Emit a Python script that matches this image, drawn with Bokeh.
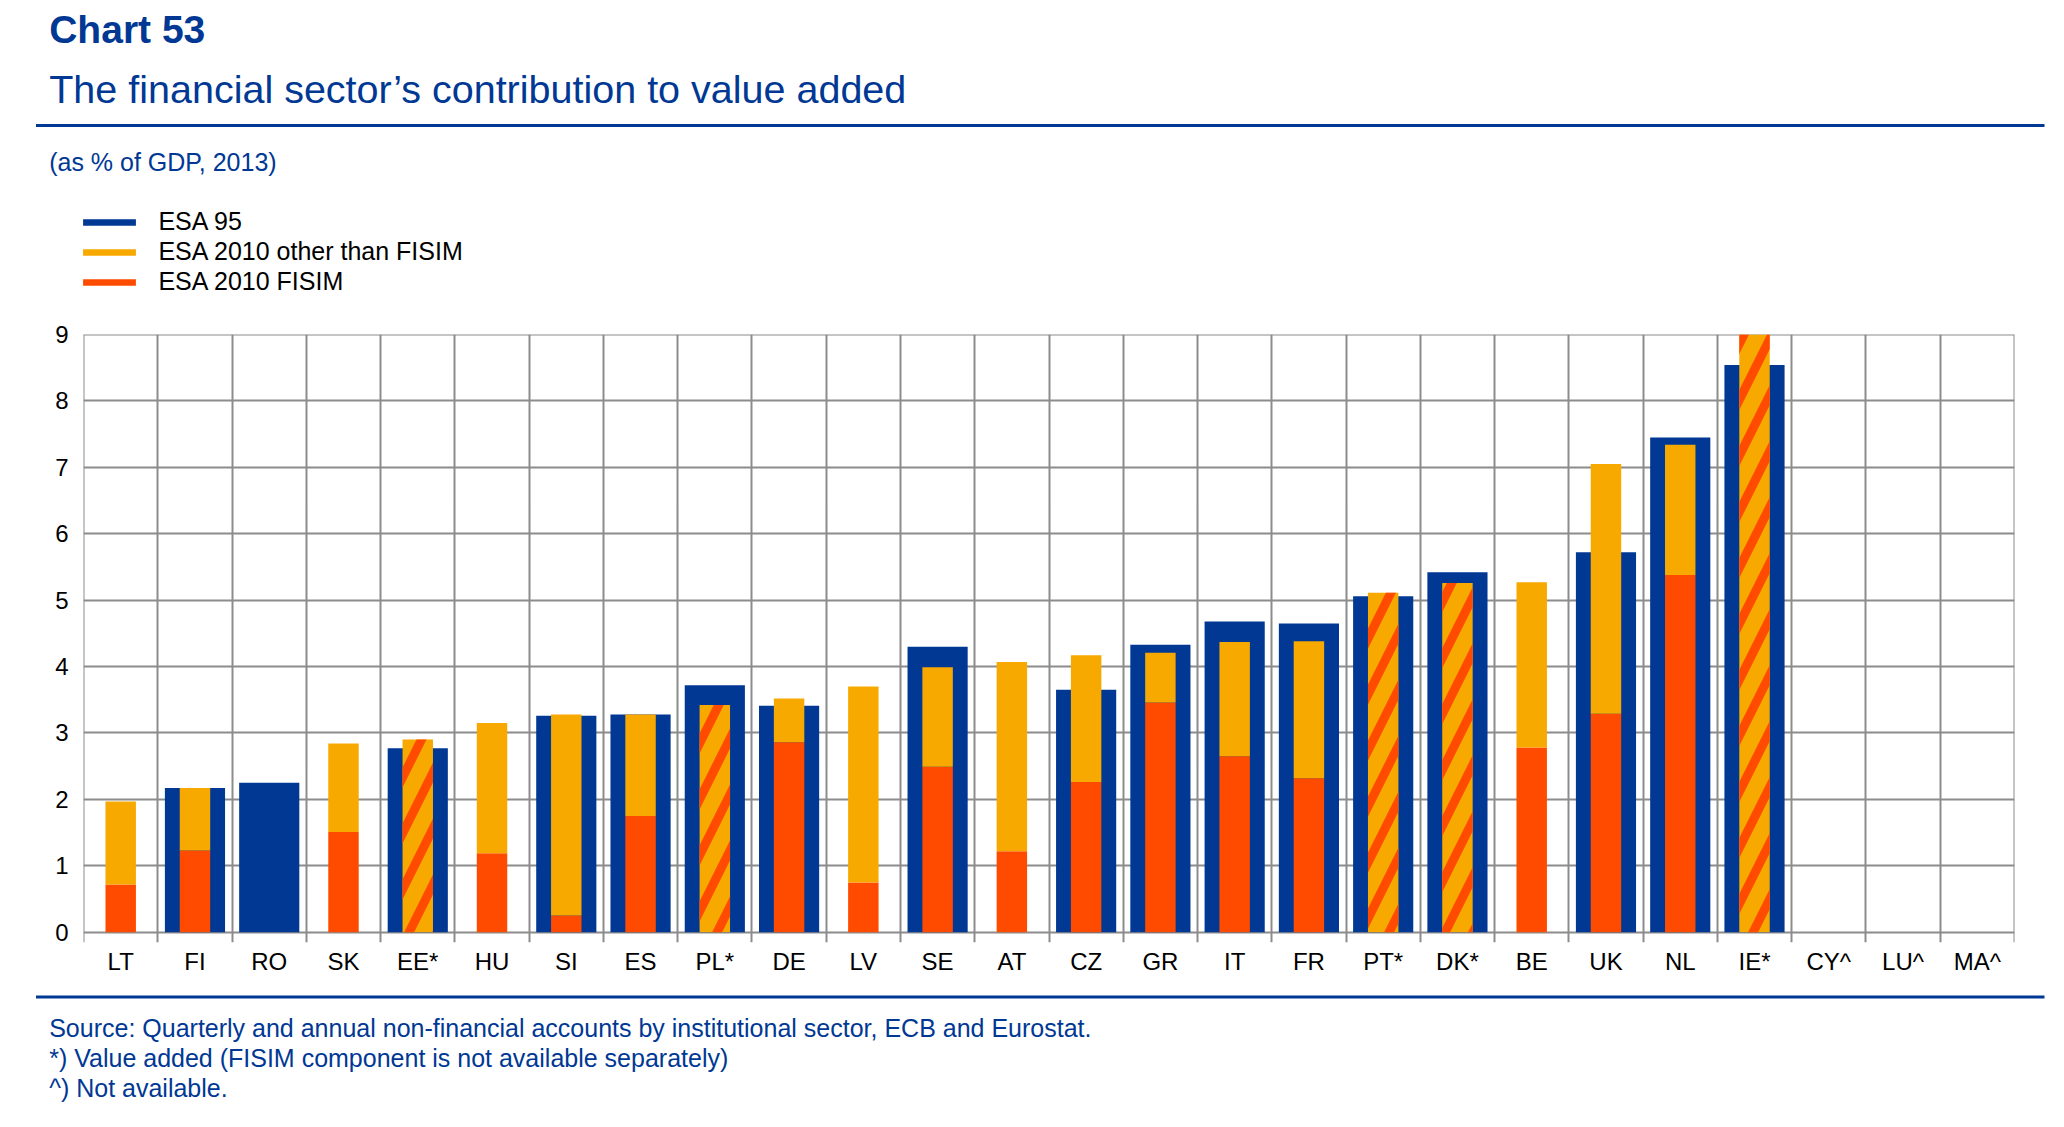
import numpy as np
from bokeh.plotting import figure
from bokeh.models import (ColumnDataSource, FactorRange, Range1d, FixedTicker,
                          Legend, LegendItem, Label, BoxAnnotation)
from bokeh.embed import file_html
from bokeh.resources import INLINE

nan = np.nan

# ---------------- data (as % of GDP, 2013) ----------------
countries = ["LT", "FI", "RO", "SK", "EE*", "HU", "SI", "ES", "PL*", "DE", "LV", "SE", "AT",
             "CZ", "GR", "IT", "FR", "PT*", "DK*", "BE", "UK", "NL", "IE*", "CY^", "LU^", "MA^"]
esa95 = [nan, 2.17, 2.25, nan, 2.77, nan, 3.26, 3.28, 3.72, 3.41, nan, 4.30, nan,
         3.65, 4.33, 4.68, 4.65, 5.06, 5.42, nan, 5.72, 7.45, 8.54, nan, nan, nan]
esa2010_fisim = [0.72, 1.23, nan, 1.51, nan, 1.19, 0.25, 1.75, nan, 2.86, 0.75, 2.49, 1.22,
                 2.26, 3.46, 2.65, 2.32, nan, nan, 2.78, 3.29, 5.38, nan, nan, nan, nan]
esa2010_other = [1.25, 0.94, nan, 1.33, nan, 1.96, 3.03, 1.53, nan, 0.66, 2.95, 1.50, 2.85,
                 1.91, 0.75, 1.72, 2.06, nan, nan, 2.49, 3.76, 1.96, nan, nan, nan, nan]
# value added, FISIM component not available separately (*)
esa2010_total_only = [nan, nan, nan, nan, 2.90, nan, nan, nan, 3.42, nan, nan, nan, nan,
                      nan, nan, nan, nan, 5.11, 5.26, nan, nan, nan, 9.25, nan, nan, nan]
y_ticks = [0, 1, 2, 3, 4, 5, 6, 7, 8, 9]

title = "Chart 53"
subtitle = "The financial sector\u2019s contribution to value added"
units = "(as % of GDP, 2013)"
legend_labels = ["ESA 95", "ESA 2010 other than FISIM", "ESA 2010 FISIM"]
notes = ["Source: Quarterly and annual non-financial accounts by institutional sector, ECB and Eurostat.",
         "*) Value added (FISIM component is not available separately)",
         "^) Not available."]

BLUE = "#003894"
YELLOW = "#F7A900"
RED = "#FF4B00"
GRID = "#8C8C8C"
FONT = "Liberation Sans"
W = 2064

# ---------------- layout geometry (page pixels) ----------------
TOP_H = 320          # header panel: title, subtitle, units, legend
BOT_Y0 = 985         # footer panel starts here
FRAME_TOP = 334
FRAME_H = 608
FRAME_LEFT = 83
MAIN_H = BOT_Y0 - TOP_H
RULE_X0, RULE_X1 = 35.5, 2044


def text_panel(height):
    f = figure(width=W, height=height, x_range=Range1d(0, W), y_range=Range1d(height, 0),
               min_border=0, x_axis_location=None, y_axis_location=None,
               output_backend="svg", toolbar_location=None, tools="",
               background_fill_color="white", border_fill_color="white")
    f.outline_line_color = None
    f.grid.visible = False
    return f


def add_text(f, text, x, y, size, color, bold=False):
    f.add_layout(Label(x=x, y=y, text=text, text_font=FONT, text_font_size=size,
                       text_color=color, text_font_style="bold" if bold else "normal",
                       text_baseline="alphabetic", text_align="left"))


def add_rule(f, y):
    f.add_layout(BoxAnnotation(left=RULE_X0, right=RULE_X1, top=y - 1.5, bottom=y + 1.5,
                               fill_color=BLUE, fill_alpha=1, line_color=None))


# ---------------- header ----------------
top = text_panel(TOP_H)
add_text(top, title, 48.7, 28.5, "39px", BLUE, bold=True)
add_text(top, subtitle, 48.7, 88.2, "39.5px", BLUE)
add_rule(top, 125)
add_text(top, units, 48.7, 161.4, "25px", BLUE)

# legend swatch renderers (zero-size bars, only used by the legend)
proxies = [top.vbar(x=[0], top=[0], width=0, fill_color=c, line_color=None)
           for c in (BLUE, YELLOW, RED)]
legend = Legend(
    items=[LegendItem(label=lab, renderers=[r]) for lab, r in zip(legend_labels, proxies)],
    location=(76.4, TOP_H - 296.7),
    orientation="vertical", glyph_width=66, glyph_height=8, label_height=30,
    label_standoff=16, spacing=0, padding=0, margin=0,
    border_line_color=None, background_fill_alpha=0,
    label_text_font=FONT, label_text_font_size="25px", label_text_color="black",
)
top.add_layout(legend, "center")

# ---------------- chart ----------------
src = ColumnDataSource(data=dict(
    country=countries,
    esa95=np.array(esa95),
    fisim=np.array(esa2010_fisim),
    other=np.array(esa2010_other),
    total_only=np.array(esa2010_total_only),
))

p = figure(
    x_range=FactorRange(factors=countries, range_padding=0.001, range_padding_units="absolute"),
    y_range=Range1d(-0.155, 9.0005),
    frame_width=W - FRAME_LEFT - 50, frame_height=FRAME_H,
    min_border_left=FRAME_LEFT, min_border_right=50,
    min_border_top=FRAME_TOP - TOP_H, min_border_bottom=MAIN_H - (FRAME_TOP - TOP_H) - FRAME_H,
    output_backend="svg", toolbar_location=None, tools="",
    background_fill_color="white", border_fill_color="white",
)
p.outline_line_color = None

p.xgrid.ticker = FixedTicker(ticks=list(range(len(countries) + 1)))
p.ygrid.ticker = FixedTicker(ticks=y_ticks)
for g in (p.xgrid, p.ygrid):
    g.grid_line_color = GRID
    g.grid_line_width = 2

p.yaxis.ticker = FixedTicker(ticks=y_ticks)
for ax in (p.xaxis, p.yaxis):
    ax.axis_line_color = None
    ax.major_tick_line_color = None
    ax.minor_tick_line_color = None
    ax.major_label_text_font = FONT
    ax.major_label_text_font_size = "24px"
    ax.major_label_text_color = "black"
p.yaxis.major_label_standoff = 9
p.xaxis.major_label_standoff = -1

p.vbar(x="country", top="esa95", bottom=0, width=0.81, source=src,
       fill_color=BLUE, line_color=None)
p.vbar_stack(["fisim", "other"], x="country", width=0.41, source=src,
             fill_color=[RED, YELLOW], line_color=None)
p.vbar(x="country", top="total_only", bottom=0, width=0.41, source=src,
       fill_color=YELLOW, line_color=None, hatch_pattern="/",
       hatch_color=RED, hatch_weight=9, hatch_scale=56)

# ---------------- footer ----------------
BOT_H = 1127 - BOT_Y0
bot = text_panel(BOT_H)
add_rule(bot, 996.4 - BOT_Y0)
for i, note in enumerate(notes):
    add_text(bot, note, 48.7, 1027 - BOT_Y0 + 30.3 * i, "25px", BLUE)

open("out.html", "w").write(file_html([top, p, bot], INLINE))
